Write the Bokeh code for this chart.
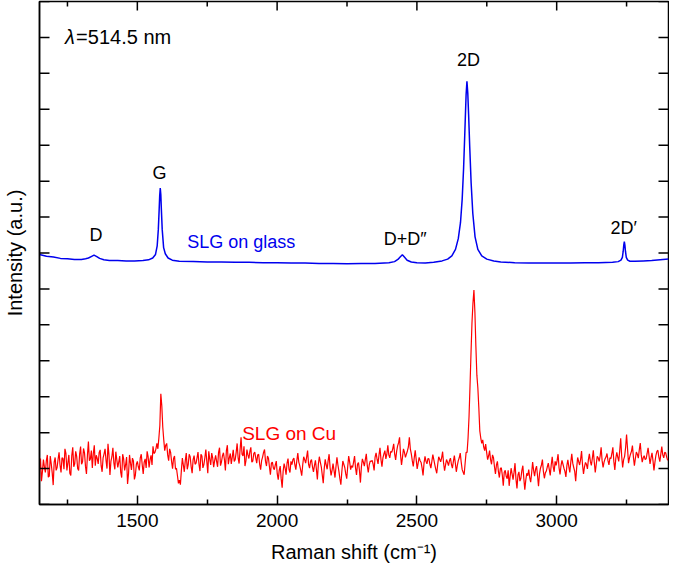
import math
from bokeh.plotting import figure
from bokeh.models import ColumnDataSource, FixedTicker, Range1d
from bokeh.core.properties import value
from bokeh.embed import file_html
from bokeh.resources import INLINE

# ---------------- data ----------------
x_min, x_max = 1150, 3400
y_min, y_max = 0, 14

blue_x = [1150, 1175, 1200, 1225, 1250, 1275, 1300, 1315, 1325, 1335, 1345, 1355, 1365, 1380,
          1400, 1430, 1460, 1490, 1520, 1540, 1555, 1565, 1571, 1575, 1578, 1580, 1582, 1584,
          1586, 1589, 1594, 1600, 1610, 1625, 1650, 1700, 1750, 1800, 1850, 1900, 1950, 2000,
          2050, 2100, 2150, 2200, 2250, 2300, 2350, 2400, 2420, 2432, 2440, 2448, 2456, 2465,
          2480, 2500, 2530, 2560, 2590, 2610, 2625, 2638, 2648, 2656, 2662, 2667, 2671, 2674,
          2676, 2679, 2682, 2685, 2689, 2694, 2700, 2708, 2718, 2732, 2750, 2775, 2800, 2850,
          2900, 2950, 3000, 3050, 3100, 3150, 3200, 3220, 3230, 3235, 3238, 3240, 3242, 3244,
          3246, 3249, 3254, 3262, 3280, 3310, 3340, 3370, 3400]
blue_y = [6.96, 6.91, 6.89, 6.85, 6.84, 6.82, 6.82, 6.84, 6.86, 6.90, 6.94, 6.90, 6.85, 6.81,
          6.79, 6.79, 6.78, 6.78, 6.79, 6.81, 6.86, 6.96, 7.20, 7.65, 8.20, 8.60, 8.81, 8.62,
          8.20, 7.65, 7.15, 6.98, 6.86, 6.80, 6.77, 6.76, 6.75, 6.75, 6.74, 6.74, 6.73, 6.73,
          6.72, 6.72, 6.71, 6.71, 6.70, 6.71, 6.71, 6.73, 6.76, 6.82, 6.89, 6.95, 6.88, 6.80,
          6.75, 6.73, 6.72, 6.74, 6.78, 6.83, 6.92, 7.10, 7.40, 7.85, 8.50, 9.35, 10.25, 10.95,
          11.40, 11.78, 11.45, 10.85, 9.95, 8.95, 8.10, 7.45, 7.10, 6.92, 6.83, 6.78, 6.75, 6.73,
          6.72, 6.72, 6.72, 6.72, 6.73, 6.73, 6.74, 6.76, 6.80, 6.88, 7.05, 7.22, 7.32, 7.22,
          7.05, 6.88, 6.80, 6.77, 6.77, 6.78, 6.79, 6.81, 6.83]

# red spectrum: samples every 7 cm-1 starting at 1150 ...
red_x_a = list(range(1150, 3400, 7))
red_y_a = [
    0.99, 0.65, 1.25, 0.89, 1.38, 0.79, 1.13, 0.54, 1.31, 1.03,
    1.45, 0.89, 1.28, 1.55, 0.95, 1.38, 0.81, 1.59, 1.13, 1.34,
    0.95, 1.61, 1.19, 1.44, 0.85, 1.75, 1.27, 1.02, 1.65, 1.37,
    1.13, 1.52, 0.91, 1.41, 1.23, 1.69, 0.82, 1.33, 1.16, 1.47,
    1.03, 1.35, 0.75, 1.27, 1.10, 0.57, 1.38, 0.96, 1.21, 0.82,
    1.20, 0.95, 1.40, 0.85, 1.27, 1.48, 1.03, 1.37, 1.62, 1.45,
    1.70, 1.85, 3.08, 2.15, 1.50, 1.70, 1.22, 1.45, 1.00, 1.35,
    1.01, 0.59, 0.55, 1.29, 0.91, 1.43, 1.11, 1.33, 0.87, 1.36,
    1.15, 1.46, 0.93, 1.35, 1.11, 1.53, 0.87, 1.26, 1.43, 1.04,
    1.37, 1.05, 1.58, 1.19, 1.44, 0.95, 1.65, 1.30, 1.13, 1.52,
    1.25, 1.70, 1.14, 1.87, 1.35, 1.07, 1.53, 1.28, 1.59, 1.21,
    1.46, 1.15, 1.40, 0.97, 1.32, 1.53, 1.07, 1.29, 0.83, 1.18,
    0.97, 1.21, 0.69, 1.07, 0.47, 1.14, 0.83, 1.28, 0.89, 1.11,
    1.29, 0.97, 1.43, 1.08, 0.80, 1.33, 1.15, 1.50, 1.01, 1.25,
    0.91, 1.23, 0.70, 1.33, 1.05, 0.59, 1.26, 0.98, 1.40, 0.81,
    1.14, 0.75, 1.31, 0.93, 0.55, 1.21, 1.03, 0.72, 1.35, 0.97,
    1.03, 1.35, 0.82, 1.17, 0.61, 1.27, 1.07, 1.41, 0.89, 1.21,
    1.23, 0.95, 1.44, 1.13, 1.58, 1.05, 1.41, 1.27, 1.65, 1.30,
    1.45, 1.69, 1.24, 1.63, 1.87, 1.10, 1.55, 1.31, 1.49, 1.87,
    1.41, 1.06, 1.51, 0.99, 1.31, 1.17, 0.81, 1.34, 1.13, 1.27,
    1.01, 1.39, 1.11, 0.87, 1.33, 1.19, 1.47, 0.94, 1.25, 1.08,
    1.29, 1.01, 1.36, 0.91, 1.22, 1.43, 0.97, 0.83, 1.45, 1.85,
    3.30, 5.05, 5.97, 4.40, 3.25, 2.05, 1.70, 1.60, 1.68, 1.25,
    1.50, 1.12, 1.30, 0.85, 1.20, 0.75, 1.02, 0.52, 0.95, 0.72,
    0.52, 1.01, 0.69, 1.15, 0.45, 0.91, 0.73, 1.08, 0.41, 0.87,
    0.97, 0.62, 1.18, 0.79, 1.07, 0.51, 1.01, 1.25, 0.73, 0.93,
    1.15, 0.81, 1.33, 0.91, 1.09, 1.40, 0.84, 1.23, 1.01, 0.77,
    1.24, 0.89, 1.41, 1.03, 0.65, 1.31, 1.10, 1.49, 0.85, 1.17,
    0.99, 1.41, 1.09, 1.51, 0.89, 1.34, 1.20, 1.59, 1.03, 1.27,
    1.42, 1.10, 1.28, 1.59, 0.96, 1.45, 1.20, 1.84, 1.03, 1.34,
    1.95, 1.15, 1.40, 1.64, 1.08, 1.46, 1.29, 1.71, 1.18, 1.36,
    1.27, 1.58, 1.13, 1.44, 0.95, 1.37, 1.51, 1.19, 1.61, 1.30,
    1.44, 1.23,
]
# ... and the samples half-way between them (1153.5, 1160.5, ...)
red_x_b = [x + 3.5 for x in red_x_a[:-1]]
red_y_b = [
    1.28, 0.92, 1.05, 1.22, 0.76, 1.35, 0.88, 1.18, 0.95, 1.26,
    1.10, 1.30, 0.98, 1.42, 1.16, 0.87, 1.36, 1.05, 1.48, 1.00,
    1.40, 1.12, 1.56, 1.06, 1.38, 1.22, 1.50, 1.42, 1.08, 1.28,
    1.45, 1.08, 1.30, 1.55, 1.00, 1.38, 1.20, 1.58, 0.98, 1.25,
    1.18, 0.90, 1.40, 0.95, 1.32, 0.86, 1.15, 1.29, 0.70, 1.12,
    1.05, 1.30, 1.10, 1.18, 1.02, 1.33, 1.25, 1.10, 1.42, 1.55,
    1.55, 2.20, 2.75, 1.80, 1.65, 1.38, 1.55, 1.20, 1.28, 0.98,
    0.80, 0.68, 0.95, 1.10, 1.22, 0.98, 1.40, 1.05, 1.25, 1.12,
    1.30, 1.12, 1.40, 1.02, 1.30, 1.20, 1.48, 1.10, 1.30, 1.22,
    1.20, 1.45, 1.08, 1.36, 1.25, 1.50, 1.12, 1.42, 1.32, 1.20,
    1.45, 1.30, 1.52, 1.40, 1.62, 1.22, 1.38, 1.48, 1.18, 1.42,
    1.30, 1.38, 1.12, 1.22, 1.45, 1.20, 1.35, 1.05, 1.15, 1.02,
    1.10, 0.85, 0.95, 0.72, 0.92, 1.02, 1.15, 0.98, 1.20, 1.25,
    1.10, 1.22, 1.18, 0.95, 1.10, 1.25, 1.32, 1.12, 1.20, 1.05,
    1.08, 0.98, 1.12, 1.18, 0.82, 1.00, 1.10, 1.22, 1.02, 0.95,
    0.95, 1.05, 1.10, 0.72, 0.92, 1.12, 0.85, 1.05, 1.18, 1.08,
    1.18, 1.02, 1.12, 0.95, 1.05, 1.18, 1.25, 1.08, 1.10, 1.20,
    1.12, 1.32, 1.26, 1.38, 1.25, 1.30, 1.50, 1.40, 1.38, 1.48,
    1.55, 1.40, 1.48, 1.72, 1.38, 1.32, 1.45, 1.40, 1.60, 1.55,
    1.22, 1.30, 1.25, 1.15, 1.22, 1.02, 1.15, 1.20, 1.28, 1.12,
    1.20, 1.25, 0.98, 1.12, 1.26, 1.30, 1.15, 1.10, 1.18, 1.22,
    1.12, 1.20, 1.15, 1.08, 1.30, 1.18, 0.90, 1.15, 1.45, 2.45,
    4.20, 5.60, 5.35, 3.60, 2.70, 1.85, 1.80, 1.50, 1.45, 1.35,
    1.25, 1.38, 1.05, 1.10, 0.92, 1.00, 0.82, 0.90, 0.78, 0.95,
    0.78, 0.85, 0.90, 0.70, 0.82, 0.65, 0.95, 0.72, 0.68, 0.80,
    0.75, 0.88, 0.95, 0.98, 0.80, 0.85, 1.10, 0.92, 0.88, 1.05,
    0.98, 1.10, 1.05, 1.20, 1.22, 1.02, 1.08, 1.12, 0.92, 1.08,
    1.05, 1.18, 1.15, 0.92, 1.02, 1.20, 1.25, 1.10, 1.05, 1.12,
    1.25, 1.20, 1.28, 1.18, 1.12, 1.30, 1.35, 1.22, 1.18, 1.32,
    1.22, 1.30, 1.42, 1.20, 1.28, 1.32, 1.50, 1.35, 1.25, 1.58,
    1.55, 1.30, 1.48, 1.32, 1.28, 1.40, 1.52, 1.38, 1.30, 1.25,
    1.42, 1.35, 1.30, 1.22, 1.18, 1.48, 1.32, 1.40, 1.38, 1.45,
    1.32,
]
red_pairs = sorted(zip(red_x_a + red_x_b, red_y_a + red_y_b))
red_x = [pt[0] for pt in red_pairs]
red_y = [pt[1] for pt in red_pairs]

x_major_ticks = [1500, 2000, 2500, 3000]
x_minor_ticks = [1250, 1750, 2250, 2750, 3250]
y_ticks = list(range(0, 15))

peak_labels = ["D", "G", "D+D\u2033", "2D", "2D\u2032"]
peak_label_x = [1352, 1579, 2458, 2685, 3240]
peak_label_y = [7.51, 9.24, 7.38, 12.38, 7.70]

series_labels = ["SLG on glass", "SLG on Cu"]
series_label_x = [1872, 2043]
series_label_y = [7.30, 1.97]

BLUE = "#0000ee"
RED = "#ff0000"
FONT = "Liberation Sans"

# ---------------- figure ----------------
p = figure(width=669, height=569, output_backend="svg", toolbar_location=None,
           x_range=Range1d(x_min, x_max), y_range=Range1d(y_min, y_max),
           min_border_left=38, min_border_right=1, min_border_top=1, min_border_bottom=65,
           x_axis_label="Raman shift (cm\u207b\u00b9)", y_axis_label="Intensity (a.u.)")
p.xgrid.visible = False
p.ygrid.visible = False
p.outline_line_color = "black"
p.outline_line_width = 1.5
p.background_fill_color = "white"
p.border_fill_color = "white"

p.line(blue_x, blue_y, line_color=BLUE, line_width=1.5)
p.line(red_x, red_y, line_color=RED, line_width=1.2)

src_peaks = ColumnDataSource(dict(x=peak_label_x, y=peak_label_y, t=peak_labels))
p.text(x="x", y="y", text="t", source=src_peaks, text_font=value(FONT),
       text_font_size=value("18px"), text_align="center", text_baseline="middle",
       text_color="black")

src_series = ColumnDataSource(dict(x=series_label_x, y=series_label_y, t=series_labels,
                                   c=[BLUE, RED], s=["18px", "19px"]))
p.text(x="x", y="y", text="t", source=src_series, text_font=value(FONT),
       text_font_size="s", text_align="center", text_baseline="middle",
       text_color="c")

p.text(x=[1241], y=[13.0], text=["\u03bb"], text_font=value(FONT), text_font_style="italic",
       text_font_size=value("20px"), text_align="left", text_baseline="middle",
       text_color="black")
p.text(x=[1281], y=[13.0], text=["=514.5 nm"], text_font=value(FONT),
       text_font_size=value("20px"), text_align="left", text_baseline="middle",
       text_color="black")

# inward ticks on the left, right and top sides (drawn as screen-length rays)
TICK = dict(line_color="black", line_width=1.5, length_units="screen")
p.ray(x=[x_min] * len(y_ticks), y=y_ticks, length=10, angle=0, **TICK)
p.ray(x=[x_max] * len(y_ticks), y=y_ticks, length=10, angle=math.pi, **TICK)
p.ray(x=x_major_ticks, y=[y_max] * len(x_major_ticks), length=9, angle=-math.pi / 2, **TICK)
p.ray(x=x_minor_ticks, y=[y_max] * len(x_minor_ticks), length=5, angle=-math.pi / 2, **TICK)

# bottom axis (labelled)
xa = p.xaxis[0]
xa.ticker = FixedTicker(ticks=x_major_ticks, minor_ticks=x_minor_ticks)
xa.axis_line_color = "black"
xa.axis_line_width = 1.5
xa.major_tick_line_color = "black"
xa.major_tick_line_width = 1.5
xa.minor_tick_line_color = "black"
xa.minor_tick_line_width = 1.5
xa.major_tick_in = 9
xa.major_tick_out = 0
xa.minor_tick_in = 5
xa.minor_tick_out = 0
xa.major_label_text_font = FONT
xa.major_label_text_font_size = "19px"
xa.major_label_text_color = "black"
xa.major_label_standoff = 9
xa.axis_label_text_font = FONT
xa.axis_label_text_font_size = "20px"
xa.axis_label_text_font_style = "normal"
xa.axis_label_text_color = "black"
xa.axis_label_standoff = 11

# left axis: only the line and the title
ya = p.yaxis[0]
ya.ticker = FixedTicker(ticks=[], minor_ticks=[])
ya.axis_line_color = "black"
ya.axis_line_width = 1.5
ya.major_tick_in = 0
ya.major_tick_out = 0
ya.minor_tick_in = 0
ya.minor_tick_out = 0
ya.major_label_standoff = 0
ya.axis_label_text_font = FONT
ya.axis_label_text_font_size = "20px"
ya.axis_label_text_font_style = "normal"
ya.axis_label_text_color = "black"
ya.axis_label_standoff = 14

open("out.html", "w").write(file_html(p, INLINE))
